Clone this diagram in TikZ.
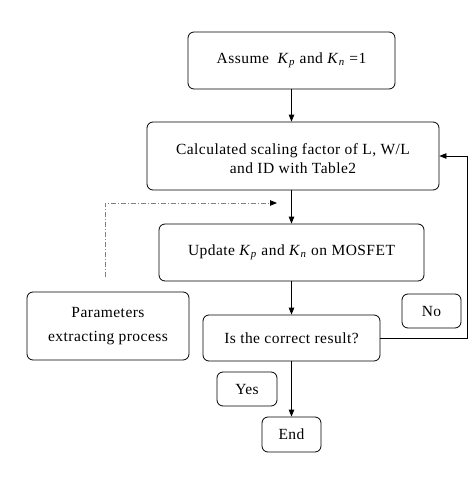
\documentclass[tikz,border=0pt]{standalone}
\usepackage{fontspec}
\setmainfont{Liberation Serif}[LetterSpace=3]
\usetikzlibrary{arrows.meta}
\begin{document}
\begin{tikzpicture}[x=1pt,y=-1pt,
  box/.style={draw,line width=0.8pt,rounded corners=6pt,inner sep=0pt,align=center,
    font=\fontsize{15.5}{18}\selectfont},
  arr/.style={line width=0.8pt,-{Triangle[length=7pt,width=5.5pt]}},
  dd/.style={line width=0.8pt,gray,dash pattern=on 5pt off 2pt on 1pt off 2pt,
    -{Triangle[length=7pt,width=5.5pt,color=black]}}]
\useasboundingbox (0,0) rectangle (474,485);
\newcommand{\Kp}{\textit{K}\textsubscript{\textit{p}}}
\newcommand{\Kn}{\textit{K}\textsubscript{\textit{n}}}
\node[box,minimum width=207pt,minimum height=57pt] (assume) at (291.5,60.5) {Assume\ \ \Kp\ and \Kn\ =1};
\node[box,minimum width=292pt,minimum height=68pt,font=\fontsize{15.5}{19}\selectfont] (calc) at (293,156) {\rule{0pt}{16pt}Calculated scaling factor of L, W/L\\and ID with Table2};
\node[box,minimum width=265pt,minimum height=57pt] (update) at (291.5,252.5) {Update \Kp\ and \Kn\ on MOSFET};
\node[box,minimum width=177pt,minimum height=46pt] (is) at (291.5,338) {Is the correct result?};
\node[box,minimum width=162pt,minimum height=68pt,font=\fontsize{15.5}{24}\selectfont] (params) at (108,326) {Parameters\\extracting process};
\node[box,minimum width=59pt,minimum height=34pt] (no) at (431.5,311) {No};
\node[box,minimum width=60pt,minimum height=34pt] (yes) at (247,389) {Yes};
\node[box,minimum width=59pt,minimum height=35pt] (end) at (291.5,434.5) {End};
\draw[arr] (assume.south) -- (assume.south |- calc.north);
\draw[arr] (calc.south -| update.north) -- (update.north);
\draw[arr] (update.south) -- (is.north);
\draw[arr] (is.south) -- (end.north);
\draw[arr] (is.east) -- ++(87,0) |- (calc.east);
\coordinate (ddstart) at (105,277);
\coordinate (ddend) at (277,203);
\draw[dd] (ddstart) |- (ddend);
\end{tikzpicture}
\end{document}
